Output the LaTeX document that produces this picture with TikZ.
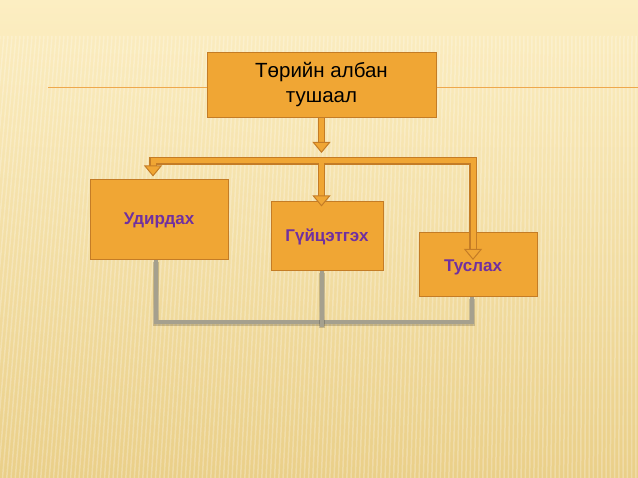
\documentclass[tikz,border=0pt]{standalone}
\usepackage{fontspec}
\setmainfont{Liberation Sans}
\usetikzlibrary{positioning,arrows.meta}
\definecolor{boxfill}{RGB}{240,166,52}
\definecolor{boxedge}{RGB}{196,124,38}
\definecolor{labelpurple}{RGB}{112,48,160}
\definecolor{linkgray}{RGB}{165,160,142}
\definecolor{bgtop}{RGB}{252,238,194}
\definecolor{bgmid}{RGB}{245,224,158}
\definecolor{bgbot}{RGB}{234,207,136}
\definecolor{rulecol}{RGB}{238,168,76}

\tikzset{
  unit/.style={draw=boxedge, fill=boxfill, line width=1pt, inner sep=0pt},
  rolelabel/.style={text=labelpurple, font=\fontsize{17}{20}\selectfont\bfseries},
  pipeedge/.style={draw=boxedge, line width=7.5pt},
  pipe/.style={draw=boxfill, line width=5pt},
  pipetip/.style={-{Triangle[width=18pt,length=11pt,color=boxedge,fill=boxfill,line width=1pt]}},
  link/.style={draw=linkgray, line width=4pt,
    preaction={draw=black, opacity=0.18, line width=6pt, transform canvas={yshift=-1.5pt}}}
}

\begin{document}
\begin{tikzpicture}[x=1pt,y=-1pt]
\useasboundingbox (0,0) rectangle (638,478);
% background
\shade[top color=bgtop, middle color=bgmid, bottom color=bgbot] (0,0) rectangle (638,478);
\foreach \i [evaluate=\i as \j using \i-40*(1-\i/638)] in {0,4,...,676}
  \draw[white, opacity=0.25, line width=1.5pt] (\i,36) -- (\j,478);

% boxes
\node[unit, minimum width=229pt, minimum height=65pt, align=center,
  font=\fontsize{20.5}{25}\selectfont] (root) at (321.5,85) {Төрийн албан\\тушаал};
\node[unit, minimum width=138pt, minimum height=80pt] (lead) at (159,220) {};
\node[rolelabel] at (lead) {Удирдах};
\node[unit, minimum width=112pt, minimum height=69pt] (exec) at (327,236.5) {};
\node[rolelabel] at (exec) {Гүйцэтгэх};
\node[unit, minimum width=118pt, minimum height=64pt] (aid) at (478,265) {};
\node[rolelabel] at ([xshift=-5pt,yshift=-2pt]aid.center) {Туслах};

% thin rule
\coordinate (ruleL) at (48,88);
\coordinate (ruleR) at (638,88);
\draw[rulecol, line width=1pt] (ruleL) -- (ruleL -| root.west);
\draw[rulecol, line width=1pt] (ruleR -| root.east) -- (ruleR);

% orange pipes
\coordinate (busL) at (153,161);
\coordinate (busR) at (473,161);
\coordinate (busM) at (root.south |- busL);
\coordinate (tipR) at ([yshift=5pt]busR |- aid.center);
\draw[pipeedge, shorten >=8pt] (root.south) -- ([yshift=8pt]busM);
\draw[pipeedge, line cap=rect] (busL) -- (busR);
\draw[pipeedge, shorten >=8pt] (busL) -- ([yshift=3pt]busL |- lead.north);
\draw[pipeedge, shorten >=8pt] (busM) -- ([yshift=-5pt]busM |- exec.north);
\draw[pipeedge, shorten >=8pt] (busR) -- (tipR);
\draw[pipe, line cap=rect] (busL) -- (busR);
\draw[pipe, pipetip] (root.south) -- ([yshift=8pt]busM);
\draw[pipe, pipetip] (busL) -- ([yshift=3pt]busL |- lead.north);
\draw[pipe, pipetip] (busM) -- ([yshift=-5pt]busM |- exec.north);
\draw[pipe, pipetip] (busR) -- (tipR);

% gray links
\coordinate (base) at (0,322);
\coordinate (leadfoot) at ([xshift=-3pt]lead.south);
\coordinate (aidfoot) at ([xshift=-6pt]aid.south);
\draw[link] (leadfoot) |- (base -| aidfoot) -- (aidfoot);
\draw[link] (exec.south -| busM) -- ([yshift=-5pt]busM |- base);
\end{tikzpicture}
\end{document}
